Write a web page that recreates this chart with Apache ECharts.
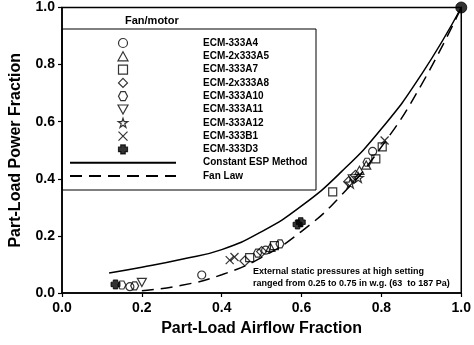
<!DOCTYPE html>
<html>
<head>
<meta charset="utf-8">
<script src="https://cdn.jsdelivr.net/npm/echarts@6/dist/echarts.min.js"></script>
<style>
  html, body { margin: 0; padding: 0; background: #fff; }
  #chart { width: 474px; height: 345px; }
</style>
</head>
<body>
<div id="chart"></div>
<script>
// Measured points: [airflow fraction, power fraction] for each fan/motor
const ecm333A4   = [[0.170, 0.022], [0.350, 0.063], [0.510, 0.150], [0.778, 0.496]];
const ecm2x333A5 = [[0.522, 0.160], [0.745, 0.430], [0.762, 0.448]];
const ecm333A7   = [[0.470, 0.124], [0.532, 0.166], [0.678, 0.354], [0.786, 0.470], [0.802, 0.512]];
const ecm2x333A8 = [[0.458, 0.112], [0.500, 0.145], [0.718, 0.390], [0.735, 0.412]];
const ecm333A10  = [[0.150, 0.028], [0.182, 0.025], [0.490, 0.140], [0.546, 0.172], [0.764, 0.458]];
const ecm333A11  = [[0.200, 0.037], [0.728, 0.400]];
const ecm333A12  = [[0.722, 0.384], [0.742, 0.404]];
const ecm333B1   = [[0.420, 0.115], [0.432, 0.126], [0.808, 0.534]];
const ecm333D3   = [[0.134, 0.030], [0.590, 0.240], [0.598, 0.248]];
// Full-load point shared by every fan (normalised to 1,1)
const fullLoad   = [1.0, 1.0];

// Reference curves
const espX   = [0.118, 0.2, 0.3, 0.4, 0.5, 0.6, 0.7, 0.8, 0.9, 1.0];
const espY   = [0.070, 0.090, 0.118, 0.152, 0.215, 0.305, 0.425, 0.575, 0.765, 1.0];
const fanX   = [0.2, 0.3, 0.4, 0.5, 0.6, 0.7, 0.8, 0.9, 1.0];
const fanY   = [0.008, 0.027, 0.064, 0.125, 0.216, 0.343, 0.512, 0.729, 1.0];

const xTicks = ['0.0', '0.2', '0.4', '0.6', '0.8', '1.0'];
const yTicks = ['0.0', '0.2', '0.4', '0.6', '0.8', '1.0'];

const fanNames = ['ECM-333A4', 'ECM-2x333A5', 'ECM-333A7', 'ECM-2x333A8', 'ECM-333A10',
                  'ECM-333A11', 'ECM-333A12', 'ECM-333B1', 'ECM-333D3'];
const fanData = [ecm333A4, ecm2x333A5, ecm333A7, ecm2x333A8, ecm333A10,
                 ecm333A11, ecm333A12, ecm333B1, ecm333D3];
const curveNames = ['Constant ESP Method', 'Fan Law'];

// Marker outlines
const SYM = {
  circle: 'circle',
  triUp: 'path://M5,0 L10,9 L0,9 Z',
  square: 'path://M0,0 L10,0 L10,10 L0,10 Z',
  diamond: 'path://M5,0 L10,5 L5,10 L0,5 Z',
  hexagon: 'path://M2.6,0 L7.4,0 L10,5 L7.4,10 L2.6,10 L0,5 Z',
  triDown: 'path://M0,0 L10,0 L5,9 Z',
  star: 'path://M5,0 L6.18,3.6 L10,3.6 L6.9,5.85 L8.1,9.5 L5,7.25 L1.9,9.5 L3.1,5.85 L0,3.6 L3.82,3.6 Z',
  cross: 'path://M0,0 L10,10 M10,0 L0,10',
  plus: 'path://M2.5,0 L7.5,0 L7.5,2.5 L10,2.5 L10,7.5 L7.5,7.5 L7.5,10 L2.5,10 L2.5,7.5 L0,7.5 L0,2.5 L2.5,2.5 Z'
};
const fanSymbols = [SYM.circle, SYM.triUp, SYM.square, SYM.diamond, SYM.hexagon,
                    SYM.triDown, SYM.star, SYM.cross, SYM.plus];
const fanSizes = [8, 9, 8, 10, 8, 9, 10, 8, 9];

const font = 'Arial, "Liberation Sans", Helvetica, sans-serif';

const series = fanNames.map((name, i) => {
  const filled = i === 8;
  const data = fanData[i].slice();
  if (filled) {
    data.push({ value: fullLoad, symbol: 'circle', symbolSize: 11 });
  }
  return {
    name: name,
    type: 'scatter',
    data: data,
    symbol: fanSymbols[i],
    symbolSize: fanSizes[i],
    symbolKeepAspect: true,
    itemStyle: filled
      ? { color: '#000', borderColor: '#000', borderWidth: 1 }
      : { color: 'rgba(255,255,255,0)', borderColor: '#000', borderWidth: 1.2 },
    z: 3
  };
});

const hiddenMarker = { color: 'rgba(0,0,0,0)', borderColor: 'rgba(0,0,0,0)', borderWidth: 0 };

series.push({
  name: curveNames[0],
  type: 'line',
  smooth: true,
  symbol: 'none',
  data: espX.map((x, i) => [x, espY[i]]),
  itemStyle: hiddenMarker,
  lineStyle: { color: '#000', width: 1.5 },
  z: 2
});
series.push({
  name: curveNames[1],
  type: 'line',
  smooth: true,
  symbol: 'none',
  data: fanX.map((x, i) => [x, fanY[i]]),
  itemStyle: hiddenMarker,
  lineStyle: { color: '#000', width: 1.5, type: [12, 7] },
  z: 2
});

const legendData = fanNames.map((n) => ({ name: n }))
  .concat(curveNames.map((n) => ({ name: n, itemStyle: hiddenMarker })));

const chart = echarts.init(document.getElementById('chart'), null, { renderer: 'canvas' });

chart.setOption({
  animation: false,
  backgroundColor: '#fff',
  grid: {
    left: 56, right: 11, top: 7.5, bottom: 52,
    show: true, borderColor: '#000', borderWidth: 1.5, backgroundColor: 'transparent'
  },
  xAxis: {
    type: 'value', min: 0, max: 1, interval: 0.2,
    name: 'Part-Load Airflow Fraction',
    nameLocation: 'middle', nameGap: 28,
    nameTextStyle: { fontFamily: font, fontWeight: 'bold', fontSize: 16, color: '#000' },
    axisLine: { lineStyle: { color: '#000', width: 1.5 } },
    axisTick: { show: true, inside: false, length: 4, lineStyle: { color: '#000', width: 1.2 } },
    axisLabel: {
      color: '#000', fontFamily: font, fontWeight: 'bold', fontSize: 14, margin: 8,
      formatter: (v) => xTicks[Math.round(v / 0.2)]
    },
    splitLine: { show: false }
  },
  yAxis: {
    type: 'value', min: 0, max: 1, interval: 0.2,
    name: 'Part-Load Power Fraction',
    nameLocation: 'middle', nameGap: 38,
    nameTextStyle: { fontFamily: font, fontWeight: 'bold', fontSize: 16, color: '#000' },
    axisLine: { lineStyle: { color: '#000', width: 1.5 } },
    axisTick: { show: true, inside: false, length: 4, lineStyle: { color: '#000', width: 1.2 } },
    axisLabel: {
      color: '#000', fontFamily: font, fontWeight: 'bold', fontSize: 14, margin: 7,
      formatter: (v) => yTicks[Math.round(v / 0.2)]
    },
    splitLine: { show: false }
  },
  legend: {
    data: legendData,
    orient: 'vertical',
    left: 69, top: 37,
    itemWidth: 106, itemHeight: 9, itemGap: 1.3,
    padding: 0,
    itemStyle: { borderWidth: 1.2 },
    textStyle: {
      fontFamily: font, fontWeight: 'bold', fontSize: 10, lineHeight: 12, color: '#000',
      padding: [0, 0, 0, 22]
    },
    selectedMode: false
  },
  graphic: [
    {
      type: 'rect',
      shape: { x: 62, y: 29, width: 254, height: 161 },
      style: { fill: 'none', stroke: '#000', lineWidth: 1 },
      z: 1
    },
    {
      type: 'text', left: 125, top: 15,
      style: { text: 'Fan/motor', fontFamily: font, fontWeight: 'bold', fontSize: 11, fill: '#000' }
    },
    {
      type: 'text', left: 253, top: 266,
      style: {
        text: 'External static pressures at high setting\nranged from 0.25 to 0.75 in w.g. (63  to 187 Pa)',
        fontFamily: font, fontWeight: 'bold', fontSize: 9, lineHeight: 11.5, fill: '#000'
      }
    }
  ],
  series: series
});
</script>
</body>
</html>
